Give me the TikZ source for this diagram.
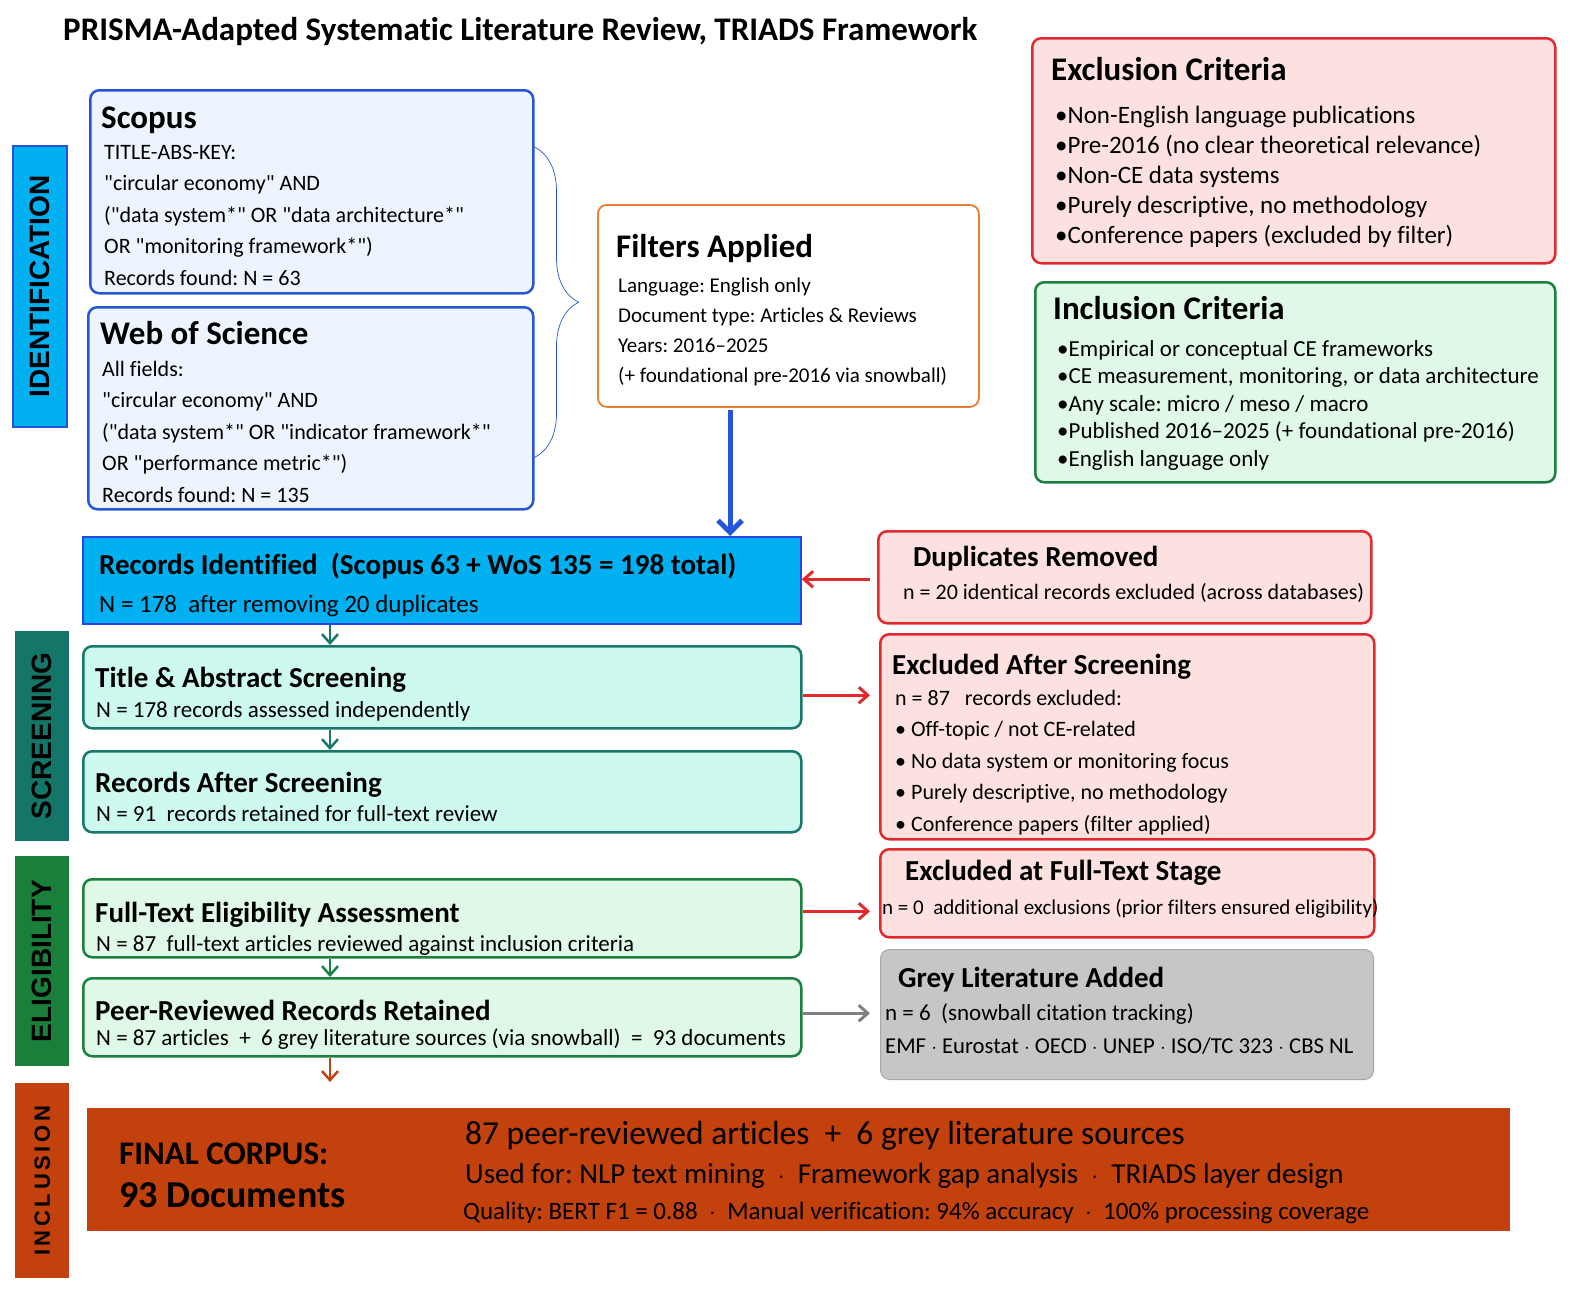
\documentclass[tikz,border=0pt]{standalone}
\usepackage{fontspec}
\setmainfont{Carlito}[Ligatures={TeXOff,CommonOff}]
\newfontfamily\arialfont{Liberation Sans}
\usetikzlibrary{arrows.meta,decorations.pathreplacing}
\frenchspacing
\definecolor{cyanfill}{HTML}{00B0F0}
\definecolor{blueline}{HTML}{2556D8}
\definecolor{ridline}{HTML}{2B45E0}
\definecolor{bluefill}{HTML}{EEF4FE}
\definecolor{orangeline}{HTML}{ED7D31}
\definecolor{redline}{HTML}{E02A2E}
\definecolor{pinkfill}{HTML}{FDE1E1}
\definecolor{tealline}{HTML}{17786B}
\definecolor{mintfill}{HTML}{CDF9EF}
\definecolor{greenline}{HTML}{1B8040}
\definecolor{greenfill}{HTML}{DFF8E7}
\definecolor{greyfill}{HTML}{C6C6C6}
\definecolor{greyline}{HTML}{A8A8A8}
\definecolor{greyarrow}{HTML}{808080}
\definecolor{tealbar}{HTML}{137668}
\definecolor{greenbar}{HTML}{1A7F3A}
\definecolor{rust}{HTML}{C2410C}
\newcommand{\fsz}[1]{\fontsize{#1}{#1}\selectfont}

\begin{document}
\begin{tikzpicture}[x=1pt,y=-1pt]
\tikzstyle{box}=[draw,rounded corners=9pt,line width=2.5pt,anchor=north west,inner sep=0pt]
\tikzstyle{bar}=[anchor=north west,inner sep=0pt]
\tikzstyle{barlabel}=[rotate=90,inner sep=0pt,font=\arialfont\bfseries\fsz{28}]
\tikzstyle{txt}=[anchor=mid west,inner sep=0pt,yshift=-7pt]
\tikzstyle{head}=[txt,yshift=-2pt,font=\bfseries\fsz{29}]
\tikzstyle{body}=[txt,font=\fsz{23}]
\tikzstyle{flow}=[-{Straight Barb[length=9pt,width=16pt]},line width=2.5pt]
\useasboundingbox (0,0) rectangle (1571,1293);

\node[txt,yshift=-2pt,font=\bfseries\fsz{33}] (title) at (63,29) {PRISMA-Adapted Systematic Literature Review, TRIADS Framework};

% stage bars
\node[bar,draw=blueline,line width=1.5pt,fill=cyanfill,minimum width=54,minimum height=281] (idbar) at (12,145) {};
\node[barlabel] (idlab) at (idbar.center) {IDENTIFICATION};
\node[bar,fill=tealbar,minimum width=54,minimum height=210] (scbar) at (15,631) {};
\node[barlabel] (sclab) at (scbar.center) {SCREENING};
\node[bar,fill=greenbar,minimum width=54,minimum height=210] (elbar) at (15,856) {};
\node[barlabel] (ellab) at (elbar.center) {ELIGIBILITY};
\node[bar,fill=rust,minimum width=54,minimum height=195] (inbar) at (15,1083) {};
\node[barlabel,font=\arialfont\bfseries\fsz{22}] (inlab) at (inbar.center) {I\,N\,C\,L\,U\,S\,I\,O\,N};

% databases
\node[box,draw=blueline,fill=bluefill,minimum width=443,minimum height=203] (scopus) at (89,89) {};
\node[head,font=\bfseries\fsz{33}] (scopush) at (101,117) {Scopus};
\foreach \t [count=\i] in {{TITLE-ABS-KEY:},{"circular economy" AND},{("data system*" OR "data architecture*"},{OR "monitoring framework*")},{Records found: N = 63}}
  \node[body,font=\fsz{22}] (scopusl\i) at (104,{150+31.5*(\i-1)}) {\t};
\node[box,draw=blueline,fill=bluefill,minimum width=445,minimum height=202] (wos) at (87,306) {};
\node[head,font=\bfseries\fsz{33}] (wosh) at (100,333) {Web of Science};
\foreach \t [count=\i] in {{All fields:},{"circular economy" AND},{("data system*" OR "indicator framework*"},{OR "performance metric*")},{Records found: N = 135}}
  \node[body,font=\fsz{22}] (wosl\i) at (102,{367+31.5*(\i-1)}) {\t};
\draw[blueline,line width=0.7pt,decorate,decoration={brace,amplitude=44pt}] ([yshift=-58pt]scopus.north east) -- ([yshift=53pt]wos.south east);

% filters
\node[box,draw=orangeline,line width=1.8pt,fill=white,minimum width=381,minimum height=202] (filt) at (597,204) {};
\node[head,font=\bfseries\fsz{33}] (filth) at (616,246) {Filters Applied};
\foreach \t [count=\i] in {{Language: English only},{Document type: Articles \& Reviews},{Years: 2016–2025},{(+ foundational pre-2016 via snowball)}}
  \node[body,font=\fsz{21}] (filtl\i) at (618,{283+30*(\i-1)}) {\t};

% criteria
\node[box,draw=redline,fill=pinkfill,minimum width=523,minimum height=225] (excl) at (1031,37) {};
\node[head,font=\bfseries\fsz{33}] (exclh) at (1051,69) {Exclusion Criteria};
\foreach \t [count=\i] in {{Non-English language publications},{Pre-2016 (no clear theoretical relevance)},{Non-CE data systems},{Purely descriptive, no methodology},{Conference papers (excluded by filter)}}
  \node[body,font=\fsz{25}] (excll\i) at (1055,{114+30*(\i-1)}) {\textbullet\t};
\node[box,draw=greenline,fill=greenfill,minimum width=520,minimum height=200] (incl) at (1034,281) {};
\node[head,font=\bfseries\fsz{33}] (inclh) at (1053,308) {Inclusion Criteria};
\foreach \t [count=\i] in {{Empirical or conceptual CE frameworks},{CE measurement, monitoring, or data architecture},{Any scale: micro / meso / macro},{Published 2016–2025 (+ foundational pre-2016)},{English language only}}
  \node[body,font=\fsz{23}] (incll\i) at (1057,{347+27.5*(\i-1)}) {\textbullet\t};

% main flow
\node[bar,draw=ridline,line width=1.8pt,fill=cyanfill,minimum width=718,minimum height=87] (rid) at (82,536) {};
\node[head] (ridh) at (99,563) {Records Identified\ \ (Scopus 63 + WoS 135 = 198 total)};
\node[body,font=\fsz{25}] (ridl) at (99,603) {N = 178\ \ after removing 20 duplicates};
\node[box,draw=tealline,fill=mintfill,minimum width=718,minimum height=82] (tas) at (82,645) {};
\node[head] (tash) at (95,676) {Title \& Abstract Screening};
\node[body] (tasl) at (96,708) {N = 178 records assessed independently};
\node[box,draw=tealline,fill=mintfill,minimum width=718,minimum height=81] (ras) at (82,750) {};
\node[head] (rash) at (95,781) {Records After Screening};
\node[body] (rasl) at (96,812) {N = 91\ \ records retained for full-text review};
\node[box,draw=greenline,fill=greenfill,minimum width=718,minimum height=78] (fte) at (82,878) {};
\node[head] (fteh) at (95,911) {Full-Text Eligibility Assessment};
\node[body] (ftel) at (96,942) {N = 87\ \ full-text articles reviewed against inclusion criteria};
\node[box,draw=greenline,fill=greenfill,minimum width=718,minimum height=78] (prr) at (82,977) {};
\node[head] (prrh) at (95,1009) {Peer-Reviewed Records Retained};
\node[body] (prrl) at (96,1036) {N = 87 articles\ \ +\ \ 6 grey literature sources (via snowball)\ \ =\ \ 93 documents};

% side boxes
\node[box,draw=redline,fill=pinkfill,minimum width=493,minimum height=92] (dup) at (877,530) {};
\node[head] (duph) at (913,555) {Duplicates Removed};
\node[body,font=\fsz{22}] (dupl) at (903,590) {n = 20 identical records excluded (across databases)};
\node[box,draw=redline,fill=pinkfill,minimum width=494,minimum height=205] (esc) at (879,633) {};
\node[head] (esch) at (892,663) {Excluded After Screening};
\foreach \t [count=\i] in {{n = 87\ \ \ records excluded:},{\textbullet\ Off-topic / not CE-related},{\textbullet\ No data system or monitoring focus},{\textbullet\ Purely descriptive, no methodology},{\textbullet\ Conference papers (filter applied)}}
  \node[body,font=\fsz{22}] (escl\i) at (895,{696+31.5*(\i-1)}) {\t};
\node[box,draw=redline,fill=pinkfill,minimum width=494,minimum height=88] (eft) at (879,848) {};
\node[head] (efth) at (905,869) {Excluded at Full-Text Stage};
\node[body,font=\fsz{21}] (eftl) at (882,905) {n = 0\ \ additional exclusions (prior filters ensured eligibility)};
\node[box,draw=greyline,line width=1pt,fill=greyfill,minimum width=493,minimum height=130] (grey) at (880,949) {};
\node[head] (greyh) at (898,976) {Grey Literature Added};
\node[body] (greyl1) at (885,1011) {n = 6\ \ (snowball citation tracking)};
\node[body,font=\fsz{22.7}] (greyl2) at (885,1044) {EMF $\cdot$ Eurostat $\cdot$ OECD $\cdot$ UNEP $\cdot$ ISO/TC 323 $\cdot$ CBS NL};

% final corpus
\node[bar,fill=rust,minimum width=1423,minimum height=123] (final) at (87,1108) {};
\node[txt,yshift=-3pt,font=\bfseries\fsz{33}] (finalh) at (119,1152) {FINAL CORPUS:};
\node[txt,yshift=-4pt,font=\bfseries\fsz{38}] (finaln) at (119,1194) {93 Documents};
\node[txt,yshift=-2pt,font=\fsz{33.5}] (finall1) at (465,1133) {87 peer-reviewed articles\ \ +\ \ 6 grey literature sources};
\node[txt,yshift=-1pt,font=\fsz{29}] (finall2) at (465,1173) {Used for: NLP text mining\ \ $\cdot$\ \ Framework gap analysis\ \ $\cdot$\ \ TRIADS layer design};
\node[txt,font=\fsz{25}] (finall3) at (463,1210) {Quality: BERT F1 = 0.88\ \ $\cdot$\ \ Manual verification: 94\% accuracy\ \ $\cdot$\ \ 100\% processing coverage};

% connectors
\coordinate (spine) at (330,0);
\coordinate (fa) at (730,410);
\draw[flow,blueline,line width=5pt,-{Straight Barb[length=12pt,width=24pt]}] (fa) -- (fa |- rid.north);
\draw[flow,tealline] (rid.south -| spine) -- (tas.north -| spine);
\draw[flow,tealline] (tas.south -| spine) -- (ras.north -| spine);
\draw[flow,greenline] (fte.south -| spine) -- (prr.north -| spine);
\draw[flow,rust,shorten >=26pt] (prr.south -| spine) -- (final.north -| spine);
\draw[flow,redline,line width=3pt,shorten <=7pt] ([yshift=-2pt]dup.west) -- ([yshift=-2pt]dup.west -| rid.east);
\draw[flow,redline,line width=3pt,shorten >=9pt] ([yshift=-8pt]tas.east) -- ([yshift=-8pt]tas.east -| esc.west);
\draw[flow,redline,line width=3pt,shorten >=9pt] ([yshift=7pt]fte.east) -- ([yshift=7pt]fte.east -| eft.west);
\draw[flow,greyarrow,line width=3pt,shorten >=10pt] ([yshift=4pt]prr.east) -- ([yshift=4pt]prr.east -| grey.west);
\end{tikzpicture}
\end{document}
